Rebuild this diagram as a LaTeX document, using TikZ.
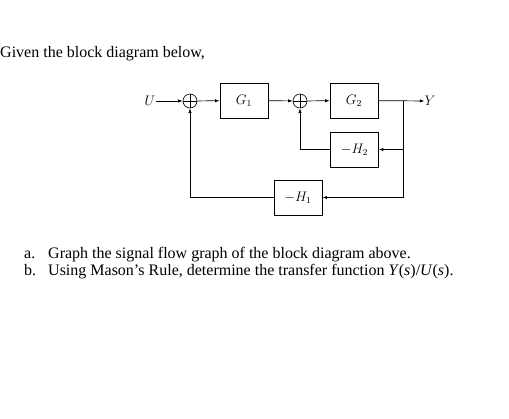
\documentclass[tikz,border=0pt]{standalone}
\usepackage{fontspec}
\setmainfont{Liberation Serif}
\usetikzlibrary{arrows.meta}
\newcommand{\mth}[1]{\scalebox{1.15}{$#1$}}
\begin{document}
\begin{tikzpicture}[x=1pt,y=-1pt,
  txt/.style={inner sep=0pt,anchor=base west,font=\fontsize{16}{19}\selectfont},
  blk/.style={draw,line width=0.7pt,minimum width=48pt,minimum height=35pt,inner sep=0pt,font=\fontsize{12}{14}\selectfont},
  sumj/.style={draw,circle,line width=0.6pt,minimum size=14pt,inner sep=0pt},
  lbl/.style={inner sep=0pt,font=\fontsize{12}{14}\selectfont},
  sig/.style={line width=0.7pt},
  arr/.style={sig,-{Latex[length=4.5pt,width=3.2pt]}}]
\useasboundingbox (0,0) rectangle (509,418);
% texts
\node[txt] (t0) at (0,57) {Given the block diagram below,};
\node[txt] (la) at (24,258) {a.};
\node[txt] (ta) at (48,258) {Graph the signal flow graph of the block diagram above.};
\node[txt] (lb) at (24,275) {b.};
\node[txt] (tb) at (48,275) {Using Mason’s Rule, determine the transfer function \textit{Y}(\textit{s})/\textit{U}(\textit{s}).};
% diagram
\node[lbl] (U) at (150,101) {\mth{U}};
\node[sumj] (s1) at (190,101) {};
\node[blk] (G1) at (244,100.5) {\mth{G_1}};
\node[sumj] (s2) at (300,101) {};
\node[blk] (G2) at (354,100.5) {\mth{G_2}};
\node[blk] (H2) at (354.5,149.5) {\mth{-H_2}};
\node[blk] (H1) at (298,197.5) {\mth{-H_1}};
\node[lbl] (Y) at (430,101) {\mth{Y}};
\coordinate (b1) at (403,101);
\coordinate (b2) at (403,149.5);
\coordinate (b3) at (403,197.5);
\coordinate (c2) at (300,149.5);
\coordinate (c1) at (190,197.5);
\foreach \s in {s1,s2}{
  \draw[line width=0.6pt] (\s.north) -- (\s.south) (\s.west) -- (\s.east);
}
\draw[arr] (U) -- (s1);
\draw[arr] (s1) -- (G1);
\draw[arr] (G1) -- (s2);
\draw[arr] (s2) -- (G2);
\draw[arr] (G2) -- (Y);
\draw[sig] (b1) -- (b3);
\draw[arr] (b2) -- (H2);
\draw[arr] (b3) -- (H1);
\draw[arr] (H2) -- (c2) -- (s2);
\draw[arr] (H1) -- (c1) -- (s1);
\end{tikzpicture}
\end{document}
